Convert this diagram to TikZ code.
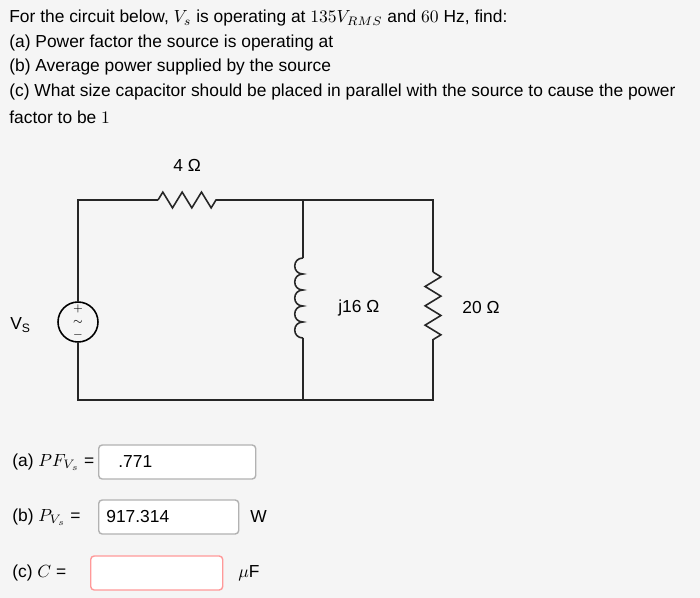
\documentclass[tikz,border=0pt]{standalone}
\usepackage{fontspec}
\setmainfont{Liberation Sans}
\usetikzlibrary{decorations.pathmorphing}
\begin{document}
\begin{tikzpicture}[x=0.02cm,y=-0.02cm,
  txt/.style={anchor=west,inner sep=0pt,font=\fontsize{9.9}{12}\selectfont},
  wire/.style={line width=0.9pt,black!85},
  zig/.style={wire,decorate,decoration={zigzag,segment length=11,amplitude=4.5}},
  sym/.style={font=\fontsize{6.5}{7}\selectfont,inner sep=0pt},
  ansbox/.style={draw=#1,line width=0.8pt,rounded corners=2pt,fill=white}]
\fill[gray!8] (0,0) rectangle (700,598);
\useasboundingbox (0,0) rectangle (700,598);
\node[txt] (t1) at (9,18) {For the circuit below, $V_s$ is operating at $135V_{RMS}$ and $60$ Hz, find:};
\node[txt] (t2) at (9,43) {(a) Power factor the source is operating at};
\node[txt] (t3) at (9,67) {(b) Average power supplied by the source};
\node[txt] (t4) at (9,92) {(c) What size capacitor should be placed in parallel with the source to cause the power};
\node[txt] (t5) at (9,117) {factor to be $1$};
% circuit
\coordinate (tl) at (78,200); \coordinate (tr) at (433,200);
\coordinate (bl) at (78,400); \coordinate (br) at (433,400);
\coordinate (r1a) at (158,200); \coordinate (r1b) at (222,200);
\coordinate (mt) at (303,200); \coordinate (mb) at (303,400);
\coordinate (la) at (303,258); \coordinate (lb) at (303,338);
\coordinate (r2a) at (433,272); \coordinate (r2b) at (433,342);
\node[circle,draw,line width=0.9pt,minimum size=0.8cm,inner sep=0pt] (src) at (78,322) {};
\node[sym] (sp) at (78,309) {$+$};
\node[sym] (sw) at (78,322) {$\sim$};
\node[sym] (sm) at (78,335) {$-$};
\draw[wire] (src.north) -- (tl) -- (r1a);
\draw[zig] (r1a) -- (r1b);
\draw[wire] (r1b) -- (tr) -- (r2a);
\draw[zig] (r2a) -- (r2b);
\draw[wire] (r2b) -- (br) -- (bl) -- (src.south);
\draw[wire] (mt) -- (la);
\draw[wire] (la) \foreach \i in {0,...,4} { .. controls (292,258+16*\i) and (292,274+16*\i) .. (303,274+16*\i)} -- (lb);
\draw[wire] (lb) -- (mb);
\node[txt] (l1) at (173,165) {4 Ω};
\node[txt] (l2) at (338,308) {j16 Ω};
\node[txt] (l3) at (462,308) {20 Ω};
\node[txt] (l4) at (10,325) {V\textsubscript{S}};
% answers
\node[ansbox=gray!60,minimum width=157*0.02cm,minimum height=34*0.02cm,anchor=west] (b1) at (98,462) {};
\node[txt] (a1) at (12,462) {(a) $PF_{V_s}$ =};
\node[txt] (a1v) at (118,462) {.771};
\node[ansbox=gray!60,minimum width=140*0.02cm,minimum height=34*0.02cm,anchor=west] (b2) at (98,517) {};
\node[txt] (a2) at (12,517) {(b) $P_{V_s}$ =};
\node[txt] (a2v) at (106,517) {917.314};
\node[txt] (a2u) at (250,517) {W};
\node[ansbox=red!40,minimum width=132*0.02cm,minimum height=34*0.02cm,anchor=west] (b3) at (90,573) {};
\node[txt] (a3) at (12,573) {(c) $C$ =};
\node[txt] (a3u) at (238,573) {$\mu$F};
\end{tikzpicture}
\end{document}
